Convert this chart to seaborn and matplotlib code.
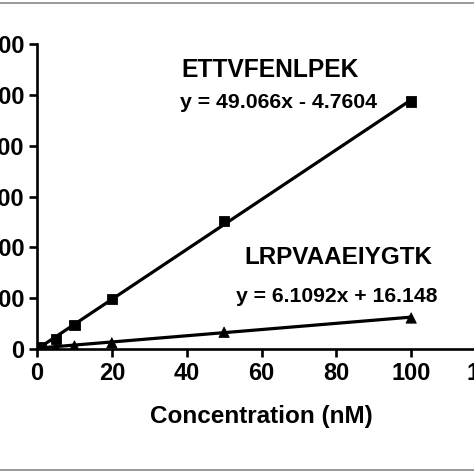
import numpy as np
import pandas as pd
import seaborn as sns
import matplotlib.pyplot as plt
from matplotlib.lines import Line2D

# data
conc = [1, 5, 10, 20, 50, 100]
area_ettv = [40, 200, 470, 980, 2520, 4870]
area_lrpv = [20, 30, 60, 120, 330, 610]
peptides = ['ETTVFENLPEK', 'LRPVAAEIYGTK']
fit_slope = [49.066, 6.1092]
fit_intercept = [-4.7604, 16.148]
equations = ['y = 49.066x - 4.7604', 'y = 6.1092x + 16.148']
xticks = [0, 20, 40, 60, 80, 100, 120]
yticks = [0, 1000, 2000, 3000, 4000, 5000, 6000]

sns.set_style('ticks')
plt.rcParams['font.family'] = ['Liberation Sans', 'DejaVu Sans']
plt.rcParams['font.weight'] = 'bold'
plt.rcParams['text.color'] = 'black'
plt.rcParams['xtick.color'] = 'black'
plt.rcParams['ytick.color'] = 'black'
plt.rcParams['axes.labelcolor'] = 'black'

fig = plt.figure(figsize=(4.74, 4.74), dpi=100)
# axes deliberately run past the right edge (cropped figure)
ax = fig.add_axes([37 / 474, 125 / 474, 449 / 474, 305 / 474])

pts = pd.DataFrame({'conc': conc * 2,
                    'area': area_ettv + area_lrpv,
                    'peptide': [peptides[0]] * len(conc) + [peptides[1]] * len(conc)})

xfit = np.array([0, max(conc)])
for i, pep in enumerate(peptides):
    fit = pd.DataFrame({'conc': xfit, 'area': fit_slope[i] * xfit + fit_intercept[i]})
    sns.lineplot(data=fit, x='conc', y='area', color='black', linewidth=2.3, ax=ax)

sns.scatterplot(data=pts, x='conc', y='area', style='peptide',
                markers={peptides[0]: 's', peptides[1]: '^'},
                color='black', s=55, edgecolor='black', legend=False, ax=ax, zorder=3)

ax.set_xlim(0, 120)
ax.set_ylim(0, 6000)
ax.set_xticks(xticks)
ax.set_yticks(yticks)
ax.tick_params(width=1.9, length=6, labelsize=17, pad=3, color='black', labelcolor='black')
for lab in ax.get_xticklabels() + ax.get_yticklabels():
    lab.set_fontweight('bold')
for s in ['left', 'bottom']:
    ax.spines[s].set_linewidth(1.9)
    ax.spines[s].set_color('black')
sns.despine(ax=ax)
ax.set_ylabel('')
ax.set_xlabel('Concentration (nM)', fontsize=17.5, fontweight='bold', color='black')
ax.xaxis.set_label_coords((261 - 37) / 449, -(405 - 349) / 305)

fig.text(270 / 474, 1 - 70 / 474, peptides[0], fontsize=17.7, fontweight='bold',
         ha='center', va='center', color='black')
fig.text(278 / 474, 1 - 103 / 474, equations[0], fontsize=15.3, fontweight='bold',
         ha='center', va='center', color='black')
fig.text(338 / 474, 1 - 258 / 474, peptides[1], fontsize=17.5, fontweight='bold',
         ha='center', va='center', color='black')
fig.text(337 / 474, 1 - 296 / 474, equations[1], fontsize=15.2, fontweight='bold',
         ha='center', va='center', color='black')

# gray frame lines of the original image
for yy in [1 - 3 / 474, 1 - 470 / 474]:
    fig.add_artist(Line2D([0, 1], [yy, yy], color='#888888', linewidth=1.2))

fig.savefig('out.png', dpi=100)
